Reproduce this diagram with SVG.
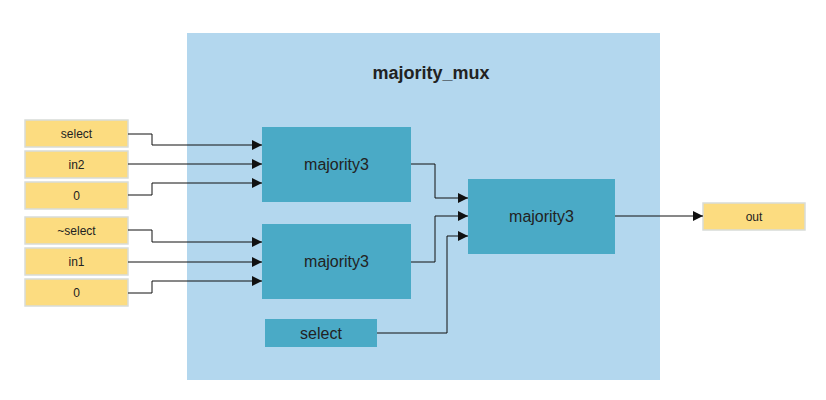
<svg xmlns="http://www.w3.org/2000/svg" width="826" height="400" viewBox="0 0 826 400">
<style>
.in{fill:#fcdc80;stroke:#d8dcd8;stroke-width:1.5}
.blk{fill:#4aaac6}
.t{font-family:"Liberation Sans",Arial,sans-serif;fill:#222;text-anchor:middle;dominant-baseline:central}
.s{font-size:12px}.m{font-size:16px}
.c path{fill:none;stroke:#111;stroke-width:1;marker-end:url(#a)}
</style>
<defs><marker id="a" viewBox="0 0 10 10" refX="10" refY="5" markerWidth="10" markerHeight="10" markerUnits="userSpaceOnUse" orient="auto"><path d="M0,0L10,5L0,10z" fill="#111"/></marker></defs>
<rect x="187" y="33" width="473" height="347" fill="#b3d7ee"/>
<text class="t" x="431" y="73" style="font-size:18px;font-weight:bold">majority_mux</text>
<g id="in_select"><rect class="in" x="25" y="120" width="103" height="27"/><text class="t s" x="76.5" y="133.5">select</text></g>
<g id="in_in2"><rect class="in" x="25" y="151" width="103" height="27"/><text class="t s" x="76.5" y="164.5">in2</text></g>
<g id="in_0a"><rect class="in" x="25" y="182" width="103" height="27"/><text class="t s" x="76.5" y="195.5">0</text></g>
<g id="in_nselect"><rect class="in" x="25" y="217" width="103" height="27"/><text class="t s" x="76.5" y="230.5">~select</text></g>
<g id="in_in1"><rect class="in" x="25" y="248" width="103" height="27"/><text class="t s" x="76.5" y="261.5">in1</text></g>
<g id="in_0b"><rect class="in" x="25" y="279" width="103" height="27"/><text class="t s" x="76.5" y="292.5">0</text></g>
<g id="maj1"><rect class="blk" x="262" y="127" width="149" height="75"/><text class="t m" x="336.5" y="164.5">majority3</text></g>
<g id="maj2"><rect class="blk" x="262" y="224" width="149" height="75"/><text class="t m" x="336.5" y="261.5">majority3</text></g>
<g id="maj3"><rect class="blk" x="468" y="179" width="147" height="75"/><text class="t m" x="541.5" y="216.5">majority3</text></g>
<g id="sel"><rect class="blk" x="265" y="319" width="112" height="28"/><text class="t m" x="321" y="333">select</text></g>
<g id="out"><rect class="in" x="703" y="203" width="102" height="27"/><text class="t s" x="754" y="216.5">out</text></g>
<g class="c">
<path d="M128,134H152V145H262"/>
<path d="M128,164H262"/>
<path d="M128,195H152V183H262"/>
<path d="M128,230H152V242H262"/>
<path d="M128,262H262"/>
<path d="M128,293H152V281H262"/>
<path d="M411,164H435V198H468"/>
<path d="M411,262H435V216H468"/>
<path d="M377,333H447V236H468"/>
<path d="M615,216H703"/>
</g>
</svg>
